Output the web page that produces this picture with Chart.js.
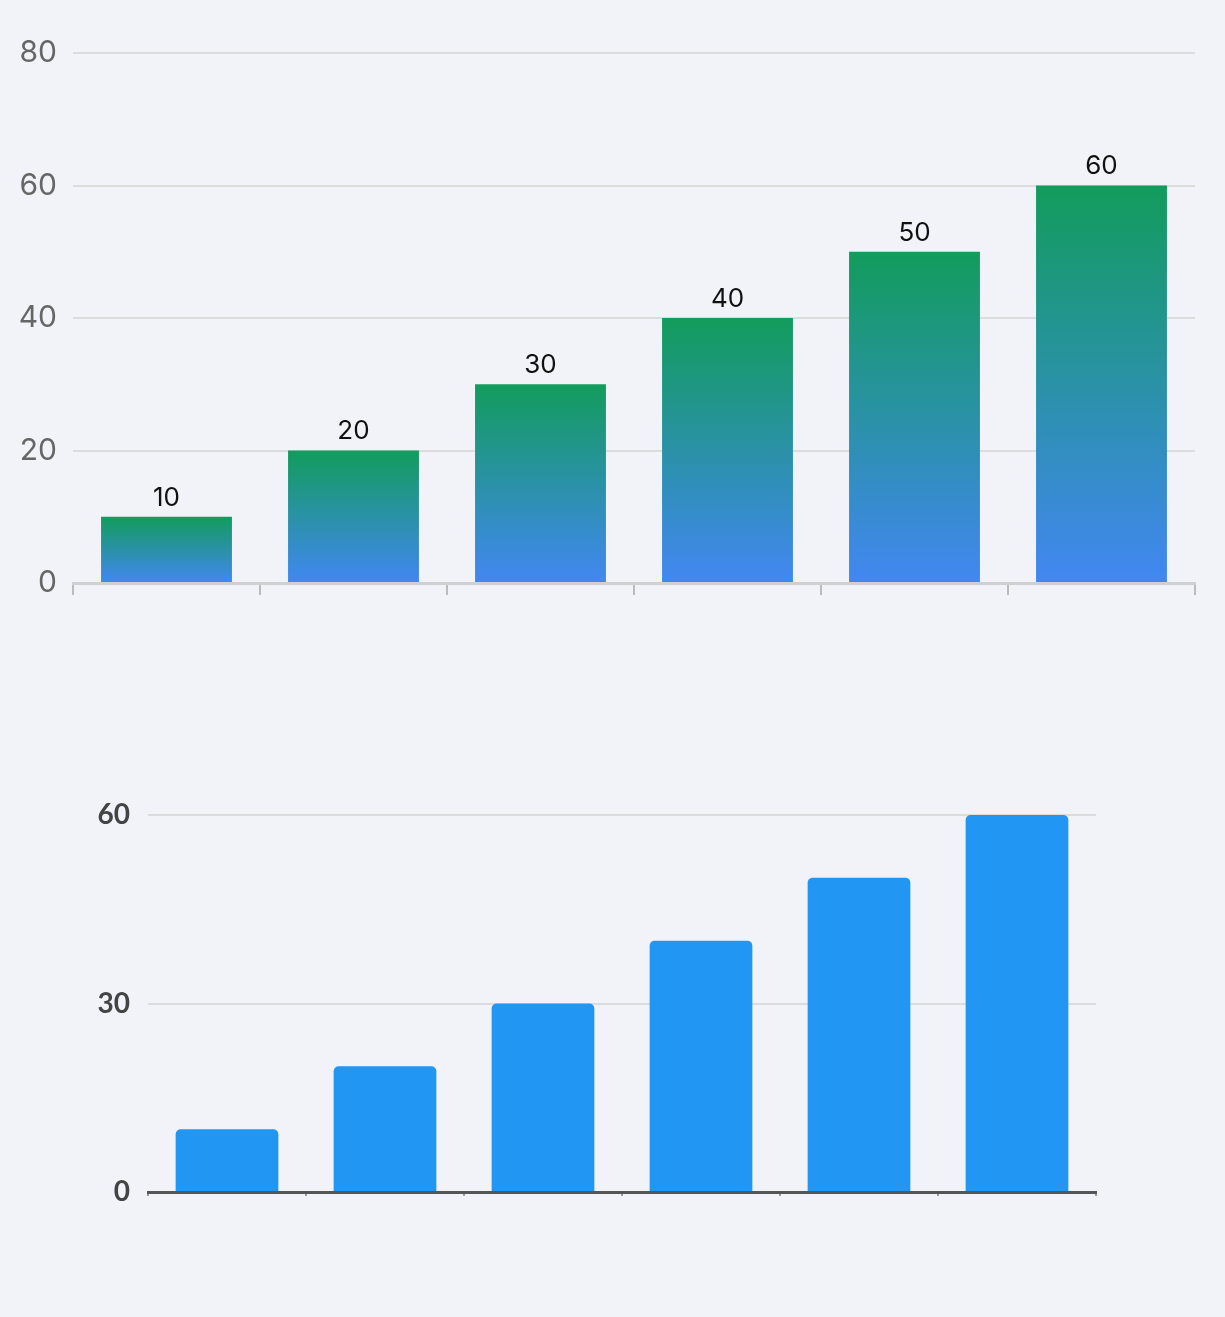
<!DOCTYPE html><html><head><meta charset="utf-8">
<script src="https://cdn.jsdelivr.net/npm/chart.js@4.4.0/dist/chart.umd.min.js"></script>
<style>
body{margin:0;background:#f2f3f8;width:1225px;height:1317px;overflow:hidden;position:relative}
#w1{position:absolute;left:0;top:0;width:1225px;height:618px;overflow:hidden}
#w2{position:absolute;left:0;top:660px;width:1225px;height:657px}
</style></head><body>
<div id="w1"><canvas id="c1" width="1225" height="660"></canvas></div>
<div id="w2"><canvas id="c2" width="1225" height="657"></canvas></div>
<script>
const categories=["NP","NOP","NTD","NWD","IWD","GCP"];
const values=[10,20,30,40,50,60];
const topTicks=[0,20,40,60,80];
const bottomTicks=[0,30,60];

const valueLabels={id:'vl',afterDatasetsDraw(ch){const c=ch.ctx;const m=ch.getDatasetMeta(0);c.save();c.font='26px Inter';c.fillStyle='#111';c.textAlign='center';c.textBaseline='bottom';
m.data.forEach((b,i)=>c.fillText(String(values[i]),b.x,b.y-6));c.restore();}};

new Chart(document.getElementById('c1'),{type:'bar',
data:{labels:categories,datasets:[{data:values,categoryPercentage:0.7,barPercentage:1,
backgroundColor(ctx){const ch=ctx.chart;const s=ch.scales.y;if(!s)return '#4285f4';const v=values[ctx.dataIndex];
const y0=s.getPixelForValue(v),y1=s.getPixelForValue(0);if(!isFinite(y0)||!isFinite(y1)||y0===y1)return '#4285f4';
const g=ch.ctx.createLinearGradient(0,y0,0,y1);g.addColorStop(0,'#129c5c');g.addColorStop(1,'#4287f2');return g;}}]},
options:{responsive:false,animation:false,events:[],plugins:{legend:{display:false},tooltip:{enabled:false}},
layout:{padding:{top:53,right:30,left:0,bottom:0}},
scales:{y:{min:0,max:80,afterFit(s){s.width=73;},afterBuildTicks(s){s.ticks=topTicks.map(v=>({value:v}));},
ticks:{font:{size:30,family:'Inter'},color:'#666',padding:16},grid:{color:'#dcdcdf',lineWidth:2,drawTicks:false},border:{display:false}},
x:{afterFit(s){s.height=77;},grid:{offset:true,drawOnChartArea:false,tickLength:12,color:'#bbb',lineWidth:2},border:{color:'#d0d0d3',width:3},
ticks:{font:{size:26,family:'Inter'},color:'#666',padding:28}}}},
plugins:[valueLabels]});

new Chart(document.getElementById('c2'),{type:'bar',
data:{labels:categories.map(()=>''),datasets:[{data:values,backgroundColor:'#2196f3',categoryPercentage:0.65,barPercentage:1,borderRadius:{topLeft:5,topRight:5},borderSkipped:'bottom'}]},
options:{responsive:false,animation:false,events:[],plugins:{legend:{display:false},tooltip:{enabled:false}},
layout:{padding:{top:155,right:129,left:0,bottom:0}},
scales:{y:{min:0,max:60,afterFit(s){s.width=148;},afterBuildTicks(s){s.ticks=bottomTicks.map(v=>({value:v}));},
ticks:{font:{size:28,family:'Lato',weight:'bold'},color:'#444',padding:18},grid:{color:'#dcdcdf',lineWidth:2,drawTicks:false},border:{display:false}},
x:{afterFit(s){s.height=125;},grid:{drawOnChartArea:false,tickLength:4,color:'#999',lineWidth:2},border:{color:'#555',width:3},ticks:{display:true}}}}});
</script></body></html>
